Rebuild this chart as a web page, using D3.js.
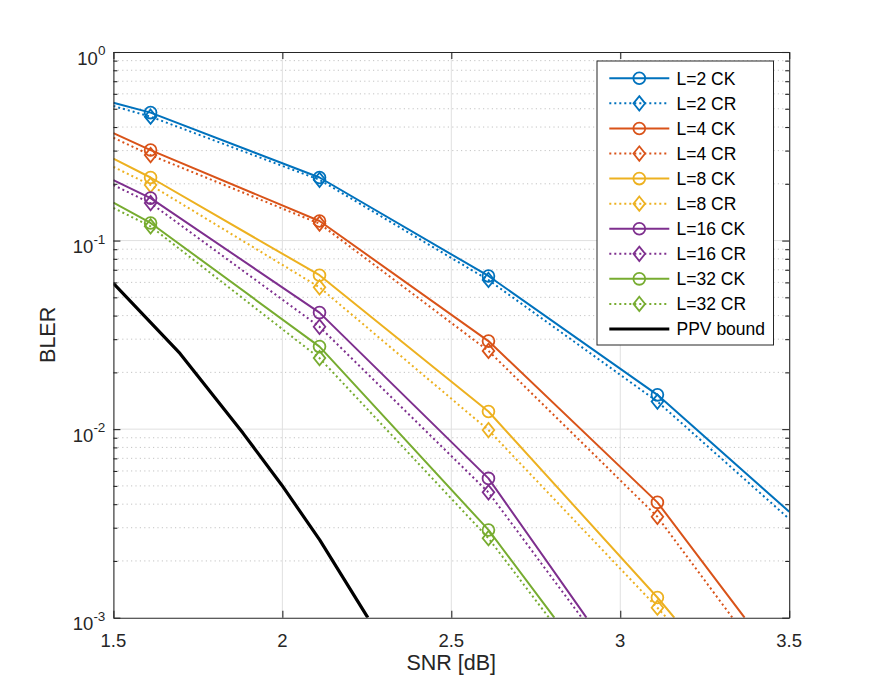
<!DOCTYPE html>
<html>
<head>
<meta charset="utf-8">
<script src="https://cdn.jsdelivr.net/npm/d3@7"></script>
<style>
  body { margin: 0; background: #fff; }
  svg { display: block; font-family: "Liberation Sans", Arial, sans-serif; }
</style>
</head>
<body>
<div id="chart"></div>
<script>
// data (SNR in dB, BLER)
var snrL2 = [1.5, 1.61, 2.11, 2.61, 3.11, 3.5]
var blerL2CK = [0.538, 0.477, 0.216, 0.0649, 0.0152, 0.00365]
var blerL2CR = [0.517, 0.454, 0.210, 0.0618, 0.0140, 0.00334]

var snrL4CK = [1.5, 1.61, 2.11, 2.61, 3.11, 3.368]
var snrL4CR = [1.5, 1.61, 2.11, 2.61, 3.11, 3.332]
var blerL4CK = [0.371, 0.302, 0.127, 0.0293, 0.00409, 0.001]
var blerL4CR = [0.351, 0.284, 0.123, 0.0260, 0.00343, 0.001]

var snrL8CK = [1.5, 1.61, 2.11, 2.61, 3.11, 3.16]
var snrL8CR = [1.5, 1.61, 2.11, 2.61, 3.11, 3.137]
var blerL8CK = [0.272, 0.216, 0.0655, 0.0124, 0.00128, 0.001]
var blerL8CR = [0.246, 0.197, 0.0565, 0.00989, 0.00113, 0.001]

var snrL16CK = [1.5, 1.61, 2.11, 2.61, 2.90]
var snrL16CR = [1.5, 1.61, 2.11, 2.61, 2.886]
var blerL16CK = [0.209, 0.168, 0.0415, 0.00548, 0.001]
var blerL16CR = [0.197, 0.158, 0.0349, 0.00462, 0.001]

var snrL32CK = [1.5, 1.61, 2.11, 2.61, 2.805]
var snrL32CR = [1.5, 1.61, 2.11, 2.61, 2.789]
var blerL32CK = [0.159, 0.124, 0.0274, 0.00292, 0.001]
var blerL32CR = [0.149, 0.119, 0.0238, 0.00264, 0.001]

var snrPPV = [1.5, 1.697, 1.884, 1.998, 2.111, 2.253]
var blerPPV = [0.0593, 0.0252, 0.0095, 0.00506, 0.00258, 0.001]

// SNR values that carry a marker
var markerSnr = [1.61, 2.11, 2.61, 3.11]

var xTicks = [1.5, 2, 2.5, 3, 3.5]
var xTickLabels = ["1.5", "2", "2.5", "3", "3.5"]
var yTicks = [1e-3, 1e-2, 1e-1, 1]
var yTickExp = ["-3", "-2", "-1", "0"]

var seriesNames = ["L=2 CK", "L=2 CR", "L=4 CK", "L=4 CR", "L=8 CK", "L=8 CR",
    "L=16 CK", "L=16 CR", "L=32 CK", "L=32 CR", "PPV bound"]
var seriesColors = ["#0072BD", "#0072BD", "#D95319", "#D95319", "#EDB120", "#EDB120",
    "#7E2F8E", "#7E2F8E", "#77AC30", "#77AC30", "#000000"]

//setup SVG

var w = 872
var h = 694
var plotL = 113.4, plotR = 789.2, plotT = 52, plotB = 617.7
var axisColor = "#262626"

var svg = d3.select("#chart")
    .append("svg")
    .attr("width", w)
    .attr("height", h)

var x = d3.scaleLinear().domain([1.5, 3.5]).range([plotL, plotR])
var y = d3.scaleLog().domain([1e-3, 1]).range([plotB, plotT])

var minorY = []
for (var d = -3; d < 0; d++) {
    for (var k = 2; k <= 9; k++) minorY.push(k * Math.pow(10, d))
}

// grid

var grid = svg.append("g")

grid.selectAll(".minor")
    .data(minorY)
    .enter().append("line")
    .attr("x1", plotL).attr("x2", plotR)
    .attr("y1", function(v) { return y(v) })
    .attr("y2", function(v) { return y(v) })
    .attr("stroke", "#bdbdbd")
    .attr("stroke-width", 0.9)
    .attr("stroke-dasharray", "1.2,3.2")

grid.selectAll(".majx")
    .data(xTicks.slice(1, -1))
    .enter().append("line")
    .attr("x1", function(v) { return x(v) })
    .attr("x2", function(v) { return x(v) })
    .attr("y1", plotT).attr("y2", plotB)
    .attr("stroke", "#e0e0e0")
    .attr("stroke-width", 1)

grid.selectAll(".majy")
    .data(yTicks.slice(1, -1))
    .enter().append("line")
    .attr("x1", plotL).attr("x2", plotR)
    .attr("y1", function(v) { return y(v) })
    .attr("y2", function(v) { return y(v) })
    .attr("stroke", "#e0e0e0")
    .attr("stroke-width", 1)

// curves

svg.append("clipPath").attr("id", "plotclip")
    .append("rect")
    .attr("x", plotL).attr("y", plotT)
    .attr("width", plotR - plotL).attr("height", plotB - plotT)

var plot = svg.append("g").attr("clip-path", "url(#plotclip)")

var seriesX = [snrL2, snrL2, snrL4CK, snrL4CR, snrL8CK, snrL8CR,
    snrL16CK, snrL16CR, snrL32CK, snrL32CR, snrPPV]
var seriesY = [blerL2CK, blerL2CR, blerL4CK, blerL4CR, blerL8CK, blerL8CR,
    blerL16CK, blerL16CR, blerL32CK, blerL32CR, blerPPV]

var line = d3.line()
    .x(function(p) { return x(p[0]) })
    .y(function(p) { return y(p[1]) })

function diamond(cx, cy) {
    var a = 5.8, b = 7.2
    return "M" + cx + "," + (cy - b) + "L" + (cx + a) + "," + cy +
        "L" + cx + "," + (cy + b) + "L" + (cx - a) + "," + cy + "Z"
}

function drawMarker(g, kind, cx, cy, color) {
    if (kind == "o") {
        g.append("circle")
            .attr("cx", cx).attr("cy", cy).attr("r", 5.9)
            .attr("fill", "none").attr("stroke", color).attr("stroke-width", 1.8)
    } else if (kind == "d") {
        g.append("path")
            .attr("d", diamond(cx, cy))
            .attr("fill", "none").attr("stroke", color).attr("stroke-width", 1.8)
    }
}

for (var i = 0; i < seriesNames.length; i++) {
    var pts = d3.zip(seriesX[i], seriesY[i])
    var isPPV = i == 10
    var dotted = !isPPV && i % 2 == 1

    plot.append("path")
        .attr("d", line(pts))
        .attr("fill", "none")
        .attr("stroke", seriesColors[i])
        .attr("stroke-width", isPPV ? 3.2 : 2)
        .attr("stroke-dasharray", dotted ? "2,3" : null)
        .attr("stroke-linejoin", "round")

    if (!isPPV) {
        pts.forEach(function(p) {
            if (markerSnr.indexOf(p[0]) >= 0) {
                drawMarker(plot, dotted ? "d" : "o", x(p[0]), y(p[1]), seriesColors[i])
            }
        })
    }
}

// axes (ticks point inward, box on)

function styleAxis(g) {
    g.selectAll("path").attr("stroke", axisColor).attr("stroke-width", 1.1)
    g.selectAll("line").attr("stroke", axisColor).attr("stroke-width", 1.1)
    g.selectAll("text").remove()
}

svg.append("g").attr("transform", "translate(0," + plotB + ")")
    .call(d3.axisBottom(x).tickValues(xTicks).tickSizeInner(-7).tickSizeOuter(0))
    .call(styleAxis)
svg.append("g").attr("transform", "translate(0," + plotT + ")")
    .call(d3.axisTop(x).tickValues(xTicks).tickSizeInner(-7).tickSizeOuter(0))
    .call(styleAxis)
svg.append("g").attr("transform", "translate(" + plotL + ",0)")
    .call(d3.axisLeft(y).tickValues(yTicks).tickSizeInner(-7).tickSizeOuter(0))
    .call(styleAxis)
svg.append("g").attr("transform", "translate(" + plotR + ",0)")
    .call(d3.axisRight(y).tickValues(yTicks).tickSizeInner(-7).tickSizeOuter(0))
    .call(styleAxis)
svg.append("g").attr("transform", "translate(" + plotL + ",0)")
    .call(d3.axisLeft(y).tickValues(minorY).tickSizeInner(-4).tickSizeOuter(0))
    .call(styleAxis)
    .select(".domain").remove()
svg.append("g").attr("transform", "translate(" + plotR + ",0)")
    .call(d3.axisRight(y).tickValues(minorY).tickSizeInner(-4).tickSizeOuter(0))
    .call(styleAxis)
    .select(".domain").remove()

// tick labels

svg.append("g").selectAll("text")
    .data(xTicks)
    .enter().append("text")
    .attr("x", function(v) { return x(v) })
    .attr("y", plotB + 29.5)
    .attr("text-anchor", "middle")
    .attr("font-size", "18.5px")
    .attr("fill", axisColor)
    .text(function(v, j) { return xTickLabels[j] })

var ylab = svg.append("g").selectAll("text")
    .data(yTicks)
    .enter().append("text")
    .attr("x", plotL - 8)
    .attr("y", function(v) { return y(v) + 12.5 })
    .attr("text-anchor", "end")
    .attr("font-size", "18.5px")
    .attr("fill", axisColor)

ylab.append("tspan").text("10")
ylab.append("tspan")
    .attr("dy", -9.5)
    .attr("font-size", "13.5px")
    .text(function(v, j) { return yTickExp[j] })

// axis titles

svg.append("text")
    .attr("x", (plotL + plotR) / 2)
    .attr("y", 670)
    .attr("text-anchor", "middle")
    .attr("font-size", "21.5px")
    .attr("fill", axisColor)
    .text("SNR [dB]")

svg.append("text")
    .attr("transform", "translate(55," + ((plotT + plotB) / 2) + ") rotate(-90)")
    .attr("text-anchor", "middle")
    .attr("font-size", "21.5px")
    .attr("fill", axisColor)
    .text("BLER")

// legend

var lg = svg.append("g")
lg.append("rect")
    .attr("x", 597).attr("y", 61)
    .attr("width", 176.5).attr("height", 284)
    .attr("fill", "#fff")
    .attr("stroke", axisColor)
    .attr("stroke-width", 1)

for (var i = 0; i < seriesNames.length; i++) {
    var ry = 78.3 + 25.07 * i
    var isPPV = i == 10
    var dotted = !isPPV && i % 2 == 1
    lg.append("line")
        .attr("x1", 609.3).attr("x2", 669.3)
        .attr("y1", ry).attr("y2", ry)
        .attr("stroke", seriesColors[i])
        .attr("stroke-width", isPPV ? 3.2 : 2)
        .attr("stroke-dasharray", dotted ? "2,3" : null)
    if (!isPPV) drawMarker(lg, dotted ? "d" : "o", 639.3, ry, seriesColors[i])
    lg.append("text")
        .attr("x", 676.5)
        .attr("y", ry + 6.3)
        .attr("font-size", "17.5px")
        .attr("fill", "#000")
        .text(seriesNames[i])
}
</script>
</body>
</html>
